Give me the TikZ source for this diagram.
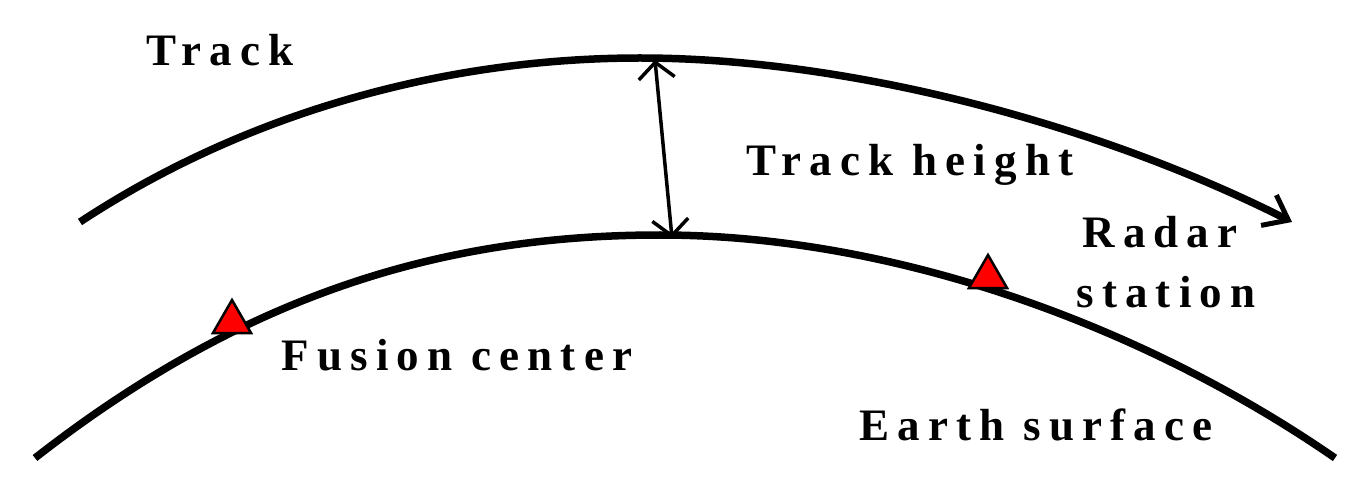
\documentclass[tikz,border=0pt]{standalone}
\usepackage{fontspec}
\setmainfont{Liberation Serif}
\usetikzlibrary{arrows.meta,shapes.geometric}
\begin{document}
\begin{tikzpicture}[x=1pt,y=-1pt,
  lbl/.style={font=\fontsize{45}{48}\selectfont\bfseries\addfontfeature{LetterSpace=18}, inner sep=0pt},
  curve/.style={line width=7.5pt},
  tri/.style={regular polygon, regular polygon sides=3, fill=red, draw=black, line width=2.5pt, minimum size=44pt, inner sep=0pt}]
\useasboundingbox (0,0) rectangle (1362,494);
\draw[curve, -{Straight Barb[length=22pt,width=34pt,line width=5pt]}] (80,222) .. controls (250,110) and (450,58) .. (640,58) .. controls (850,58) and (1100,125) .. (1292,222);
\draw[curve] (35,458) .. controls (250,290) and (450,235) .. (660,235) .. controls (900,235) and (1150,330) .. (1335,458);
\coordinate (top) at (655,60);
\coordinate (bot) at (672,238);
\draw[line width=3.5pt, {Straight Barb[length=16pt,width=36pt,line width=3.5pt]}-{Straight Barb[length=16pt,width=36pt,line width=3.5pt]}] (top) -- (bot);
\node[tri] (fc) at (232,322) {};
\node[tri] (rs) at (988,277) {};
\node[lbl] (t) at (220,50) {Track};
\node[lbl] (th) at (910,165) {Track height};
\node[lbl] (r) at (1160,232) {Radar};
\node[lbl] (s) at (1166,292) {station};
\node[lbl] (f) at (457,355) {Fusion center};
\node[lbl] (e) at (1036,425) {Earth surface};
\end{tikzpicture}
\end{document}
